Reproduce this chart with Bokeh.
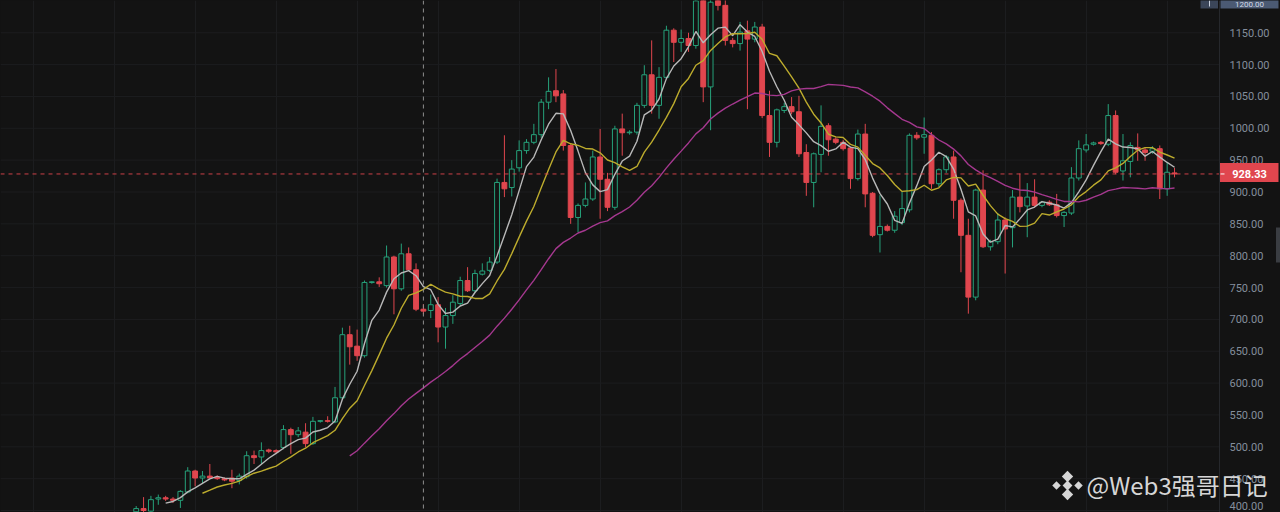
import numpy as np
import pandas as pd
from bokeh.plotting import figure
from bokeh.models import ColumnDataSource, Span, FixedTicker
from bokeh.embed import file_html
from bokeh.resources import INLINE
from bokeh.core.properties import value

# ---------------- data ----------------
opens = [398, 403, 399, 418, 420, 418, 416, 429, 462, 451,
         454, 452, 450, 451, 447, 453, 486, 484, 495, 494,
         499, 527, 519, 523, 505, 540, 541, 539, 577, 676,
         658, 643, 758, 759, 753, 798, 748, 803, 778, 716,
         714, 723, 688, 706, 725, 761, 745, 771, 777, 790,
         915, 907, 938, 965, 978, 990, 1041, 1059, 1054, 973,
         860, 879, 889, 955, 920, 876, 999, 993, 994, 1036,
         1084, 1036, 1080, 1154, 1135, 1141, 1130, 1205, 1065, 1205,
         1193, 1138, 1133, 1153, 1140, 1159, 1020, 978, 1028, 1034,
         1026, 962, 915, 959, 1004, 983, 978, 969, 921, 991,
         898, 833, 846, 840, 852, 872, 989, 986, 989, 913,
         935, 955, 887, 832, 735, 903, 814, 822, 856, 844,
         892, 878, 892, 879, 884, 880, 863, 867, 922, 966,
         975, 978, 975, 1020, 933, 948, 970, 966, 964, 968,
         905, 930]
highs = [407, 421, 423, 425, 423, 421, 432, 468, 464, 462,
         473, 455, 452, 464, 458, 493, 494, 507, 497, 496,
         534, 530, 531, 537, 547, 542, 548, 594, 687, 690,
         684, 761, 760, 766, 816, 800, 819, 813, 788, 724,
         739, 735, 718, 738, 767, 782, 778, 788, 798, 921,
         989, 950, 981, 983, 1007, 1046, 1080, 1093, 1060, 975,
         882, 915, 965, 999, 930, 1004, 1023, 997, 1040, 1099,
         1138, 1096, 1161, 1157, 1155, 1150, 1230, 1215, 1215, 1212,
         1205, 1142, 1167, 1169, 1167, 1164, 1059, 1031, 1040, 1049,
         1051, 975, 962, 1036, 1008, 986, 982, 971, 998, 1007,
         900, 895, 849, 870, 900, 992, 994, 1017, 994, 937,
         958, 965, 890, 858, 905, 934, 825, 867, 860, 903,
         929, 914, 920, 886, 887, 897, 870, 939, 981, 991,
         979, 980, 1038, 1028, 991, 978, 992, 970, 972, 973,
         947, 938]
lows = [392, 396, 395, 409, 415, 412, 404, 427, 438, 443,
        450, 448, 446, 435, 441, 450, 473, 473, 490, 490,
        496, 489, 515, 499, 503, 538, 538, 537, 574, 629,
        635, 640, 756, 751, 750, 708, 745, 776, 713, 708,
        702, 664, 654, 693, 722, 743, 742, 769, 774, 787,
        892, 893, 932, 960, 975, 985, 1030, 1041, 965, 850,
        837, 876, 886, 858, 870, 872, 957, 990, 990, 1032,
        1023, 1015, 1077, 1104, 1120, 1120, 1125, 1041, 997, 1185,
        1130, 1127, 1122, 1030, 1135, 1016, 955, 970, 1024, 1022,
        955, 894, 876, 931, 957, 975, 965, 905, 918, 876,
        829, 805, 838, 836, 848, 868, 982, 960, 905, 908,
        930, 858, 774, 709, 730, 812, 808, 818, 772, 813,
        868, 829, 876, 876, 878, 860, 845, 864, 918, 962,
        973, 974, 972, 928, 918, 923, 949, 949, 960, 889,
        894, 923]
closes = [403, 400, 417, 420, 418, 416, 430, 462, 451, 454,
          451, 450, 448, 446, 454, 486, 483, 494, 493, 492,
          527, 519, 525, 505, 540, 541, 540, 577, 676, 657,
          643, 758, 759, 756, 798, 748, 803, 778, 716, 713,
          723, 688, 706, 727, 761, 745, 772, 776, 790, 915,
          905, 936, 965, 978, 990, 1041, 1058, 1051, 973, 860,
          879, 889, 955, 920, 876, 999, 993, 994, 1036, 1084,
          1036, 1080, 1154, 1135, 1141, 1130, 1200, 1065, 1198, 1193,
          1138, 1133, 1151, 1140, 1159, 1020, 978, 1029, 1034, 1026,
          960, 915, 960, 1003, 982, 978, 968, 921, 991, 897,
          832, 846, 840, 862, 874, 989, 985, 990, 913, 935,
          955, 887, 832, 735, 903, 814, 822, 856, 842, 892,
          877, 892, 879, 884, 880, 863, 868, 922, 968, 974,
          977, 976, 1020, 931, 949, 973, 966, 962, 968, 905,
          931, 928.33]
ma_periods = [5, 10, 30]
price_ticks = [400, 450, 500, 550, 600, 650, 700, 750, 800, 850,
               900, 950, 1000, 1050, 1100, 1150]
crosshair_price = 1200.00
last_price = 928.33
crosshair_index = 39
watermark = "@Web3强哥日记"

# ---------------- styling ----------------
BG = "#131313"
GRID = "#1c1d1f"
UP = "#26a27b"
DOWN = "#e0464e"
MA_COLORS = ["#b8b8b8", "#bcab2d", "#a5388f"]
AXIS_TXT = "#848e9c"
W, H = 1280, 512
AXIS_X = 1219          # page x of the price-scale border

# page -> data helpers (reference geometry)
def xd(px):
    return (px - 135.7) / 7.364

def yd(py):
    return 400 + (510 - py) / 0.637

n = len(closes)
idx = np.arange(n)
o = np.array(opens, float); h = np.array(highs, float)
l = np.array(lows, float); c = np.array(closes, float)
up = c >= o

df = pd.DataFrame(dict(x=idx, o=o, h=h, l=l, c=c,
                       top=np.maximum(o, c), bot=np.minimum(o, c)))
up_src = ColumnDataSource(df[up])
dn_src = ColumnDataSource(df[~up])

p = figure(width=W, height=H, output_backend="svg", toolbar_location=None,
           x_range=(xd(0), xd(W)), y_range=(yd(H), yd(0)),
           x_axis_location=None, y_axis_location=None,
           min_border=0)
p.background_fill_color = BG
p.border_fill_color = BG
p.outline_line_color = None

# vertical grid (time) and horizontal grid (price), the latter stopping at the scale
p.xgrid.ticker = FixedTicker(ticks=list(range(8 - 22, n, 11)))
p.xgrid.grid_line_color = GRID
p.ygrid.grid_line_color = None
tick_arr = np.array(price_ticks, float)
p.segment(x0=np.full(len(tick_arr), xd(0)), y0=tick_arr,
          x1=np.full(len(tick_arr), xd(AXIS_X)), y1=tick_arr,
          line_color=GRID, line_width=1)

# candles: wicks then bodies
p.segment("x", "l", "x", "h", source=up_src, line_color=UP, line_width=1)
p.segment("x", "l", "x", "h", source=dn_src, line_color=DOWN, line_width=1)
p.vbar("x", 0.66, "top", "bot", source=up_src, fill_color=BG, line_color=UP, line_width=1)
p.vbar("x", 0.66, "top", "bot", source=dn_src, fill_color=DOWN, line_color=DOWN, line_width=1)

# moving averages
cs = pd.Series(c)
for per, col in zip(ma_periods, MA_COLORS):
    ma = cs.rolling(per).mean().to_numpy()
    p.line(idx, ma, line_color=col, line_width=1.4)

# crosshair and last-price line
p.add_layout(Span(location=crosshair_index, dimension="height", line_color="#8f8f8f",
                  line_dash="4 4", line_width=1))
p.segment(x0=[xd(0)], y0=[last_price], x1=[xd(AXIS_X)], y1=[last_price],
          line_color=DOWN, line_dash="4 4", line_width=1, line_alpha=0.9)

# ---------------- price scale (right) ----------------
p.add_layout(Span(location=xd(AXIS_X), dimension="height", line_color="#26282c", line_width=1))
label_y = tick_arr.copy()
label_y[0] = yd(505.5)   # keep the lowest label inside the window
p.text(x=np.full(len(tick_arr), xd(1229)), y=label_y,
       text=[f"{t:.2f}" for t in price_ticks],
       text_color=AXIS_TXT, text_font=value("Roboto"), text_font_size="11px",
       text_align="left", text_baseline="middle")

# crosshair price tag at the top edge
p.quad(left=[xd(1200)], right=[xd(1217.5)], bottom=[yd(8)], top=[yd(-2)],
       fill_color="#3b4659", line_color=None)
p.segment(x0=[xd(1209)], y0=[yd(0)], x1=[xd(1209)], y1=[yd(6)],
          line_color="#c9d1de", line_width=1)
p.quad(left=[xd(1220)], right=[xd(1278)], bottom=[yd(8)], top=[yd(-2)],
       fill_color="#4b5a73", line_color=None)
p.text(x=[xd(1249)], y=[yd(4.2)], text=[f"{crosshair_price:.2f}"],
       text_color="#d3dae6", text_font=value("Roboto"), text_font_size="8px",
       text_align="center", text_baseline="middle")

# last price tag
p.quad(left=[xd(AXIS_X + 0.5)], right=[xd(1278)], bottom=[yd(181.5)], top=[yd(162.5)],
       fill_color=DOWN, line_color=None)
p.segment(x0=[xd(1220)], y0=[last_price], x1=[xd(1224)], y1=[last_price],
          line_color="white", line_width=1)
p.text(x=[xd(1249)], y=[last_price], text=[f"{last_price:.2f}"],
       text_color="white", text_font=value("Roboto"), text_font_size="11px",
       text_font_style="bold", text_align="center", text_baseline="middle")

# scale handle at the right edge
p.quad(left=[xd(1275.5)], right=[xd(1281)], bottom=[yd(262)], top=[yd(227)],
       fill_color="#3a3d42", line_color=None)

# ---------------- watermark ----------------
p.scatter([xd(1056), xd(1078), xd(1067), xd(1067), xd(1067)],
          [yd(485), yd(485), yd(485), yd(476), yd(494)],
          marker="square", angle=np.pi / 4, size=[6, 6, 7, 8, 8],
          fill_color="#d6d6d6", line_color=None)
p.text(x=[xd(1086)], y=[yd(484)], text=[watermark], text_color="#d6d6d6",
       text_font=value("Noto Sans CJK SC"), text_font_size="24px",
       text_align="left", text_baseline="middle")

html = file_html(p, INLINE)
html = html.replace("</head>", "<style>html,body{background:#131313;}</style></head>", 1)
open("out.html", "w").write(html)
